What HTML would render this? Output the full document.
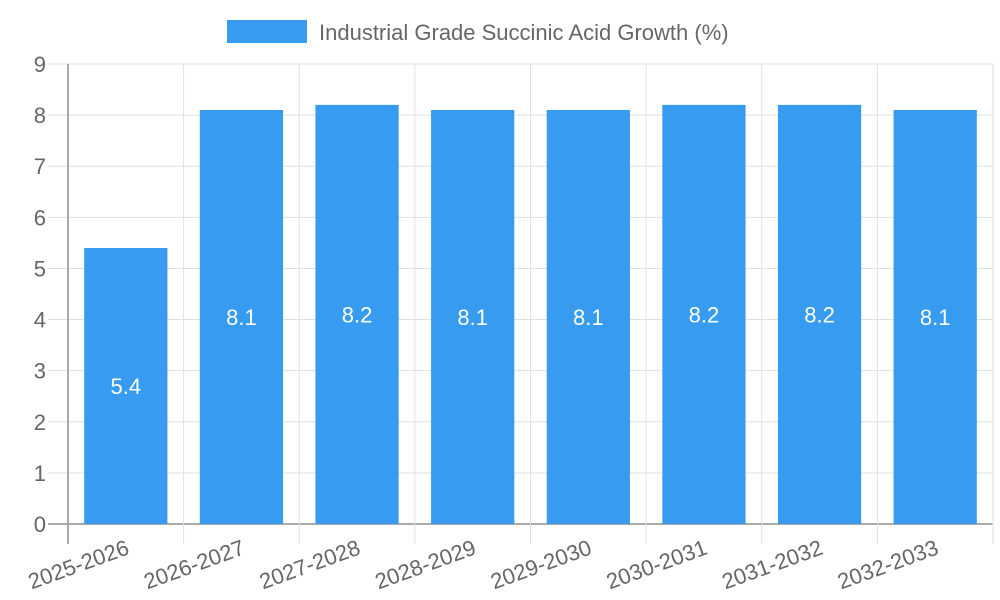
<!DOCTYPE html>
<html><head><meta charset="utf-8"><style>body{margin:0;background:#fff}svg{display:block;font-family:"Liberation Sans",sans-serif}</style></head>
<body>
<svg id="chart" width="1000" height="600" viewBox="0 0 1000 600">
<g>
<rect x="227" y="20" width="80" height="23" fill="#379bf0"/>
<text x="319" y="40" font-size="22" fill="#666">Industrial Grade Succinic Acid Growth (%)</text>
</g>
<g id="grid"></g><g id="bars"></g><g id="labels"></g>
</svg>
<script>
const categories=["2025-2026","2026-2027","2027-2028","2028-2029","2029-2030","2030-2031","2031-2032","2032-2033"];
const values=[5.4,8.1,8.2,8.1,8.1,8.2,8.2,8.1];
const yTicks=[0,1,2,3,4,5,6,7,8,9];
const X0=68,X1=993,Y0=524,Y1=64,YMAX=9;
const NS="http://www.w3.org/2000/svg";
const cw=(X1-X0)/categories.length;
const y=v=>Y0-(v/YMAX)*(Y0-Y1);
const x=i=>X0+i*cw;
function mk(t,a,p){const e=document.createElementNS(NS,t);for(const k in a)e.setAttribute(k,a[k]);p.appendChild(e);return e;}
const g=document.getElementById('grid'),b=document.getElementById('bars'),l=document.getElementById('labels');
yTicks.forEach(t=>{
 const ln=mk('line',{x1:t===0?48:48,x2:X1,y1:y(t),y2:y(t),stroke:t===0?'#aaa':'#e0e0e0','stroke-width':t===0?2:1},g);
 
 
 const tx=mk('text',{x:46,y:y(t)+8,'text-anchor':'end','font-size':22,fill:'#666'},l);
 tx.textContent=t;
 
 
});
for(let i=0;i<=categories.length;i++){
 const ln=mk('line',{x1:x(i),x2:x(i),y1:Y1,y2:544,stroke:i===0?'#aaa':'#e0e0e0','stroke-width':i===0?2:1},g);
 
 
}
categories.forEach((c,i)=>{
 const bw=cw*0.72,bx=x(i)+(cw-bw)/2,v=values[i];
 const r=mk('rect',{x:bx,y:y(v),width:bw,height:Y0-y(v),fill:'#379bf0'},b);
 
 
 const vt=mk('text',{x:x(i)+cw/2,y:(y(v)+Y0)/2+8,'text-anchor':'middle','font-size':22,fill:'#fff'},l);
 vt.textContent=v;
 
 
 const cx=x(i)+cw/2+2,cy=546;
 const ct=mk('text',{x:cx,y:cy+8,'text-anchor':'end','font-size':22,fill:'#666',transform:`rotate(-20 ${cx} ${cy})`},l);
 ct.textContent=c;
 
 
});
</script>
</body></html>
